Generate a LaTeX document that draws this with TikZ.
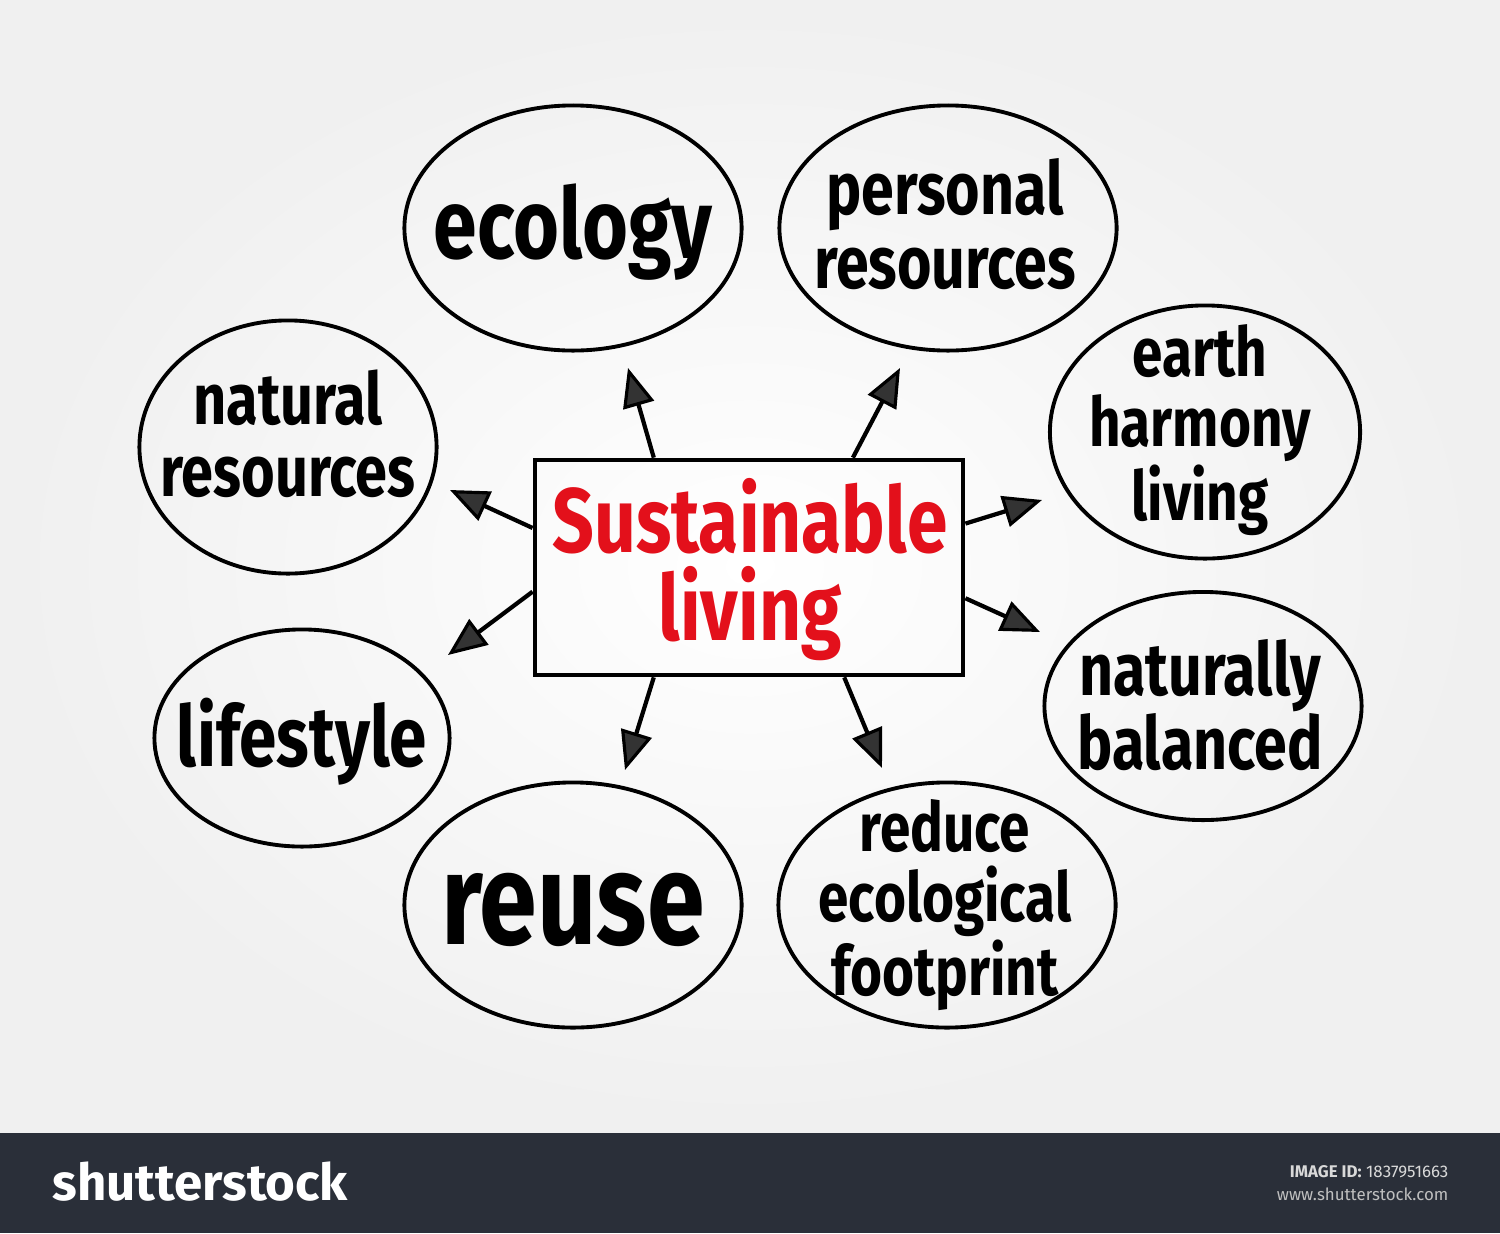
\documentclass[tikz,border=0pt]{standalone}
\usepackage{fontspec}
\setmainfont{Fira Sans}
\newfontfamily\hand[FakeStretch=0.8]{Fira Sans}
\usetikzlibrary{shapes.geometric,arrows.meta,calc}
\definecolor{barcol}{HTML}{2A2F39}
\definecolor{redtxt}{HTML}{E3101B}
\begin{document}
\begin{tikzpicture}[x=0.01cm,y=-0.01cm,
  bub/.style={draw, ellipse, line width=1.1pt, inner sep=0pt},
  txt/.style={align=center, inner sep=0pt},
  conn/.style={line width=1.2pt, -{Triangle[length=11pt,width=9pt,fill=black!80,line width=0.9pt]}}]
\useasboundingbox (0,0) rectangle (1500,1233);
\shade[inner color=white, outer color=black!6] (0,0) rectangle (1500,1133);
\fill[barcol] (0,1133) rectangle (1500,1233);

% bubbles
\node[bub, minimum width=3.37cm, minimum height=2.45cm] (eco) at (573,228) {};
\node[bub, minimum width=3.37cm, minimum height=2.45cm] (pers) at (948,228) {};
\node[bub, minimum width=2.97cm, minimum height=2.53cm] (nat) at (288,447) {};
\node[bub, minimum width=3.10cm, minimum height=2.53cm] (earth) at (1205,432) {};
\node[bub, minimum width=3.17cm, minimum height=2.28cm] (bal) at (1203,706) {};
\node[bub, minimum width=2.95cm, minimum height=2.17cm] (life) at (302,738) {};
\node[bub, minimum width=3.37cm, minimum height=2.45cm] (reuse) at (573,905) {};
\node[bub, minimum width=3.37cm, minimum height=2.45cm] (red) at (947,905) {};

% texts
\node[txt, font=\hand\bfseries\fontsize{28}{18}\selectfont] (teco) at (573,232) {ecology};
\node[txt, font=\hand\bfseries\fontsize{21}{21}\selectfont] (tpers) at (945,224) {personal\\resources};
\node[txt, font=\hand\bfseries\fontsize{20.5}{20.5}\selectfont] (tnat) at (288,434) {natural\\resources};
\node[txt, font=\hand\bfseries\fontsize{19.5}{20}\selectfont] (tearth) at (1200,430) {earth\\harmony\\living};
\node[txt, font=\hand\bfseries\fontsize{21}{21}\selectfont] (tbal) at (1200,705) {naturally\\balanced};
\node[txt, font=\hand\bfseries\fontsize{24}{18}\selectfont] (tlife) at (302,742) {lifestyle};
\node[txt, font=\hand\bfseries\fontsize{37}{18}\selectfont] (treuse) at (573,910) {reuse};
\node[txt, font=\hand\bfseries\fontsize{19.5}{20}\selectfont] (tred) at (945,905) {reduce\\ecological\\footprint};

% central box
\node[draw, line width=1.3pt, minimum width=4.28cm, minimum height=2.15cm] (box) at (749,567.5) {};
\node[txt, text=redtxt, font=\hand\bfseries\fontsize{26}{25}\selectfont] (tbox) at (750,570) {Sustainable\\living};

% arrow ends
\coordinate (e1) at (628,368);
\coordinate (e2) at (900,368);
\coordinate (e3) at (450,490);
\coordinate (e4) at (1042,500);
\coordinate (e5) at (1040,632);
\coordinate (e6) at (448,655);
\coordinate (e7) at (625,770);
\coordinate (e8) at (882,768);
\draw[conn] ($(box.north west)!0.28!(box.north east)$) -- (e1);
\draw[conn] ($(box.north west)!0.74!(box.north east)$) -- (e2);
\draw[conn] ($(box.north west)!0.32!(box.south west)$) -- (e3);
\draw[conn] ($(box.north east)!0.30!(box.south east)$) -- (e4);
\draw[conn] ($(box.north east)!0.64!(box.south east)$) -- (e5);
\draw[conn] ($(box.north west)!0.61!(box.south west)$) -- (e6);
\draw[conn] ($(box.south west)!0.28!(box.south east)$) -- (e7);
\draw[conn] ($(box.south west)!0.72!(box.south east)$) -- (e8);

% footer bar
\node[anchor=base west, inner sep=0pt, text=white, font=\bfseries\fontsize{14.5}{15}\selectfont] (logo) at (52,1200) {shutterstock};
\node[anchor=base east, inner sep=0pt, text=white!85!black, font=\fontsize{4.8}{6}\selectfont] (imgid) at (1449,1177) {\textbf{IMAGE ID:} 1837951663};
\node[anchor=base east, inner sep=0pt, text=white!75!black, font=\fontsize{4.8}{6}\selectfont] (url) at (1449,1200) {www.shutterstock.com};
\end{tikzpicture}
\end{document}
